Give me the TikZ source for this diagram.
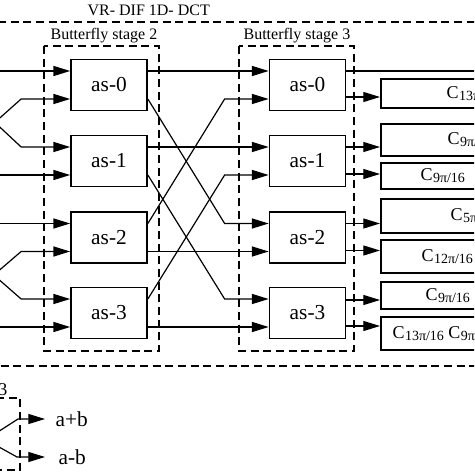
\documentclass[tikz,border=0pt]{standalone}
\usepackage{fontspec}
\setmainfont{Liberation Serif}
\usetikzlibrary{arrows.meta,calc}
\tikzset{every picture/.style={line width=0.9pt}}
\tikzset{
  asbox/.style={draw, line width=1.3pt, minimum width=57pt, minimum height=38.25pt, inner sep=0pt, font=\fontsize{16}{18}\selectfont},
  cbox/.style={draw, line width=1.3pt, anchor=west, minimum width=112pt, inner sep=0pt},
  ctext/.style={anchor=west, inner sep=0pt, font=\fontsize{13.5}{15}\selectfont},
  stagebox/.style={draw, dash pattern=on 6pt off 3.5pt, line width=1pt},
  sig/.style={-{Triangle[length=12.5pt,width=7.5pt]}},
}
\newcommand{\coef}[1]{C\kern0.3pt\raisebox{-1.6pt}{\fontsize{10.5}{12}\selectfont #1}}

\begin{document}
\begin{tikzpicture}[x=0.75pt,y=0.75pt,yscale=-1,xscale=1]
    \useasboundingbox (0,0) rectangle (474,474);
    \clip (0,0) rectangle (474,474);
    % Frames
    \draw [stagebox] (-10,22) rectangle (490,366);
    \draw [stagebox] (44,46) rectangle (159,351);
    \draw [stagebox] (239,46) rectangle (354,351);
    \draw [stagebox] (-10,398) rectangle (20,470);
    % Text Node
    \draw (87,16) node [anchor=base west][inner sep=0pt][font=\fontsize{12}{14}\selectfont] (title) {VR- DIF 1D- DCT};
    \draw (50,40) node [anchor=base west][inner sep=0pt][font=\fontsize{12}{14}\selectfont] (lab2) {Butterfly stage 2};
    \draw (243,40) node [anchor=base west][inner sep=0pt][font=\fontsize{12}{14}\selectfont] (lab3) {Butterfly stage 3};
    \draw (8,395) node [anchor=base east][inner sep=0pt][font=\fontsize{13.5}{15}\selectfont] (lab4) {3};
    % Stage 2 blocks
    \node [asbox] (s2a0) at (109,85) {as-0};
    \node [asbox] (s2a1) at (109,161) {as-1};
    \node [asbox] (s2a2) at (109,237.5) {as-2};
    \node [asbox] (s2a3) at (109,313) {as-3};
    % Stage 3 blocks
    \node [asbox] (s3a0) at (307.5,85) {as-0};
    \node [asbox] (s3a1) at (307.5,161) {as-1};
    \node [asbox] (s3a2) at (307.5,237.5) {as-2};
    \node [asbox] (s3a3) at (307.5,313) {as-3};
    % Coefficient blocks
    \node [cbox, minimum height=21.75pt] (c1) at (380,93.5) {};
    \node [cbox, minimum height=24pt] (c2) at (380,140) {};
    \node [cbox, minimum height=19.5pt] (c3) at (380,176) {};
    \node [cbox, minimum height=25.5pt] (c4) at (380,216) {};
    \node [cbox, minimum height=24.75pt] (c5) at (380,256.5) {};
    \node [cbox, minimum height=20.25pt] (c6) at (380,295.5) {};
    \node [cbox, minimum height=24.75pt] (c7) at (380,333.5) {};
    % Text Node
    \node [ctext] (t1) at (446,93.5) {\coef{13π/16}};
    \node [ctext] (t2) at (447,140) {\coef{9π/16}};
    \node [ctext] (t3) at (420,176) {\coef{9π/16}};
    \node [ctext] (t4) at (450,216) {\coef{5π/16}};
    \node [ctext] (t5) at (421,256.5) {\coef{12π/16}};
    \node [ctext] (t6) at (425,295.5) {\coef{9π/16}};
    \node [ctext] (t7) at (392,333.5) {\coef{13π/16} \coef{9π/16}};
    % Inputs
    \coordinate (in0) at (-10,71);
    \coordinate (in1) at (-12,128.5);
    \coordinate (in2) at (-12,116);
    \coordinate (in3) at (-10,175);
    \coordinate (in4) at (-10,223.5);
    \coordinate (in5) at (-12,280);
    \coordinate (in6) at (-12,270);
    \coordinate (in7) at (-10,327);
    \draw [sig] (in0) -- ($(s2a0.west)+(0,-14)$);
    \draw [sig] (in1) -- ($(s2a0.west)+(-49,14)$) -- ($(s2a0.west)+(0,14)$);
    \draw [sig] (in2) -- ($(s2a1.west)+(-49,-14)$) -- ($(s2a1.west)+(0,-14)$);
    \draw [sig] (in3) -- ($(s2a1.west)+(0,14)$);
    \draw [sig] (in4) -- ($(s2a2.west)+(0,-14)$);
    \draw [sig] (in5) -- ($(s2a2.west)+(-49,14)$) -- ($(s2a2.west)+(0,14)$);
    \draw [sig] (in6) -- ($(s2a3.west)+(-49,-14)$) -- ($(s2a3.west)+(0,-14)$);
    \draw [sig] (in7) -- ($(s2a3.west)+(0,14)$);
    % Connection stage 2 to stage 3
    \draw [sig] ($(s2a0.east)+(0,-14)$) -- ($(s3a0.west)+(0,-14)$);
    \draw [sig] ($(s2a0.east)+(0,14)$) -- ($(s3a2.west)+(-44,-14)$) -- ($(s3a2.west)+(0,-14)$);
    \draw [sig] ($(s2a1.east)+(0,-14)$) -- ($(s3a1.west)+(0,-14)$);
    \draw [sig] ($(s2a1.east)+(0,14)$) -- ($(s3a3.west)+(-44,-14)$) -- ($(s3a3.west)+(0,-14)$);
    \draw [sig] ($(s2a2.east)+(0,-14)$) -- ($(s3a0.west)+(-44,14)$) -- ($(s3a0.west)+(0,14)$);
    \draw [sig] ($(s2a2.east)+(0,14)$) -- ($(s3a2.west)+(0,14)$);
    \draw [sig] ($(s2a3.east)+(0,-14)$) -- ($(s3a1.west)+(-44,14)$) -- ($(s3a1.west)+(0,14)$);
    \draw [sig] ($(s2a3.east)+(0,14)$) -- ($(s3a3.west)+(0,14)$);
    % Connection stage 3 to coefficients
    \coordinate (out0) at (490,71);
    \draw ($(s3a0.east)+(0,-14)$) -- (out0);
    \draw [sig] ($(s3a0.east)+(0,12)$) coordinate (o1) -- (o1 -| c1.west);
    \draw [sig] ($(s3a1.east)+(0,-14)$) coordinate (o2) -- (o2 -| c2.west);
    \draw [sig] ($(s3a1.east)+(0,13)$) coordinate (o3) -- (o3 -| c3.west);
    \draw [sig] ($(s3a2.east)+(0,-14)$) coordinate (o4) -- (o4 -| c4.west);
    \draw [sig] ($(s3a2.east)+(0,13)$) coordinate (o5) -- (o5 -| c5.west);
    \draw [sig] ($(s3a3.east)+(0,-13)$) coordinate (o6) -- (o6 -| c6.west);
    \draw [sig] ($(s3a3.east)+(0,13)$) coordinate (o7) -- (o7 -| c7.west);
    % Legend
    \draw (55,419) node [anchor=west][inner sep=0pt][font=\fontsize{16}{18}\selectfont] (sum) {a+b};
    \draw (58,457) node [anchor=west][inner sep=0pt][font=\fontsize{16}{18}\selectfont] (dif) {a-b};
    \coordinate (l1) at (-10,437);
    \coordinate (l2) at (-10,442);
    \draw [sig] (l1) -- (18,419) -- ($(sum.west)+(-10,0)$);
    \draw [sig] (l2) -- (17,457) -- ($(dif.west)+(-13,0)$);
\end{tikzpicture}
\end{document}
